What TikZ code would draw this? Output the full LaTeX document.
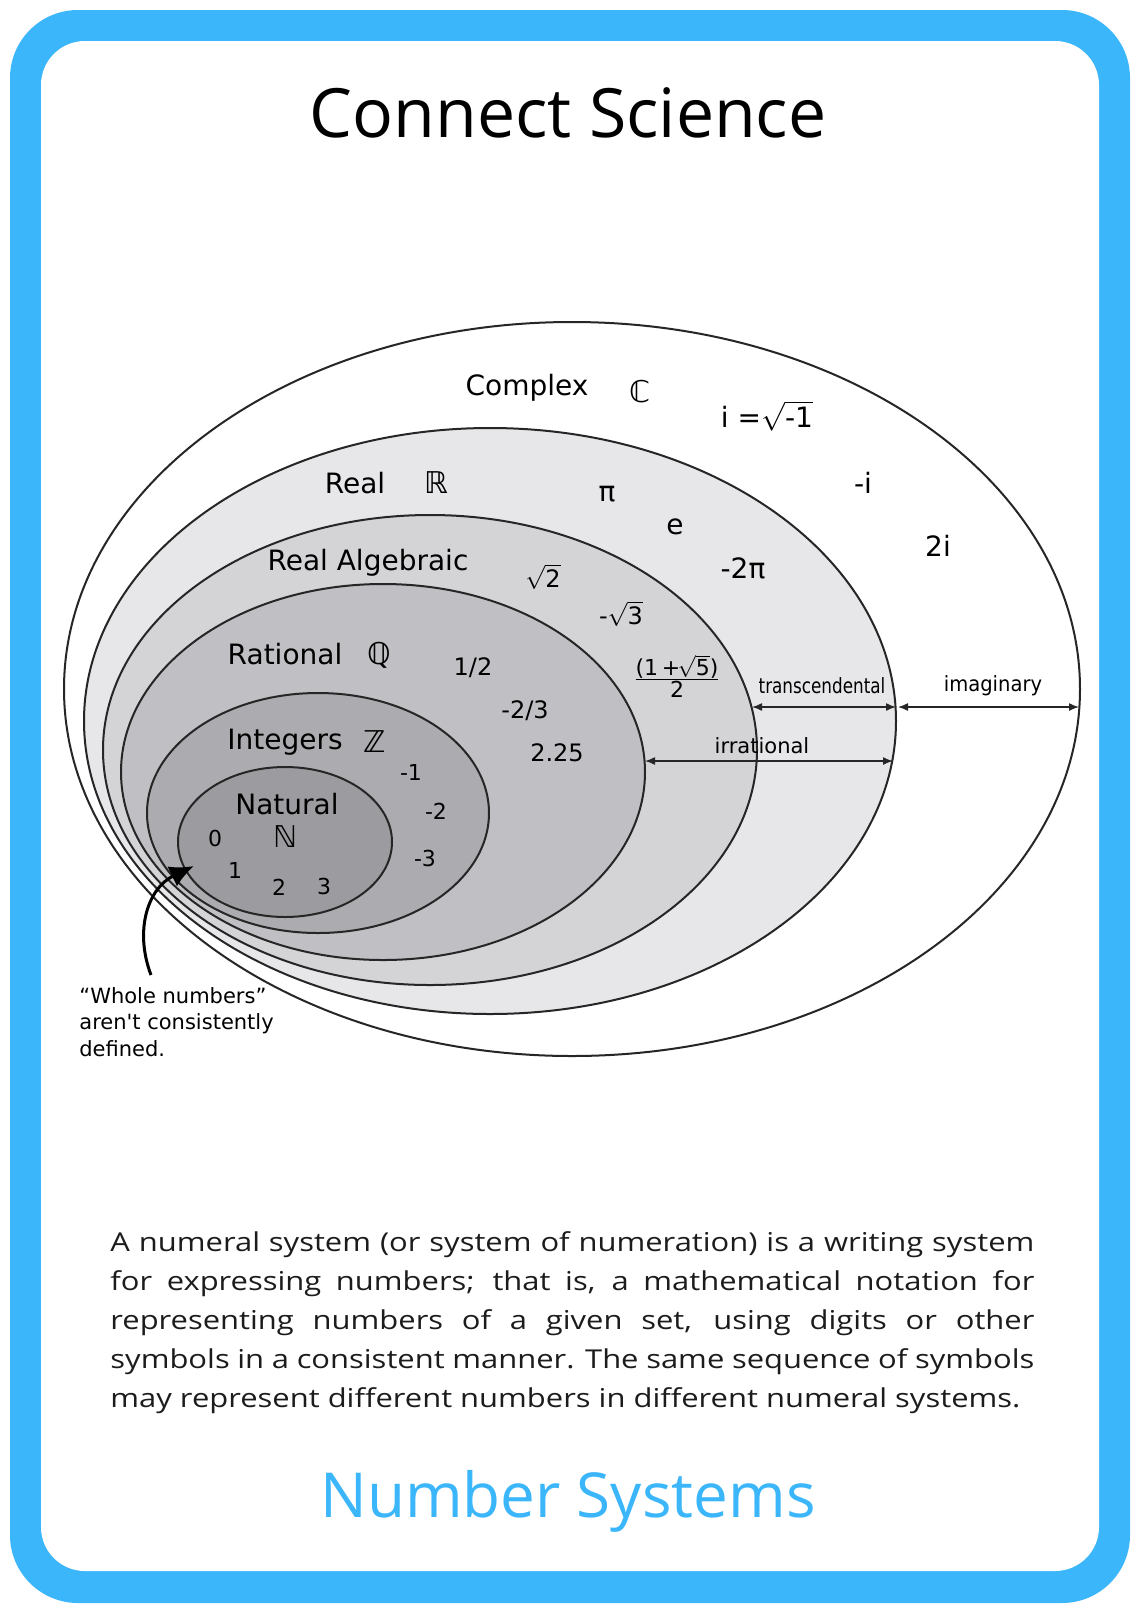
\documentclass[tikz,border=0pt]{standalone}
\usepackage{fontspec}
\setmainfont{Open Sans}
\newfontfamily\dfont{DejaVu Sans}
\newfontfamily\bodyfont[FakeStretch=1.19]{Open Sans}
\usetikzlibrary{arrows.meta}
\definecolor{frameblue}{RGB}{59,182,250}
\definecolor{creal}{RGB}{231,231,233}
\definecolor{calg}{RGB}{212,212,215}
\definecolor{crat}{RGB}{192,192,196}
\definecolor{cint}{RGB}{172,172,176}
\definecolor{cnat}{RGB}{156,156,160}
\definecolor{bodyink}{RGB}{28,28,28}
\tikzset{
  setline/.style={draw=black!85, line width=1pt},
  lab/.style={font=\dfont\fontsize{14pt}{16pt}\selectfont, inner sep=0pt},
  bblab/.style={font=\dfont\fontsize{15pt}{17pt}\selectfont, inner sep=0pt},
  num/.style={font=\dfont\fontsize{12pt}{14pt}\selectfont, inner sep=0pt},
  numsm/.style={font=\dfont\fontsize{11pt}{13pt}\selectfont, inner sep=0pt},
  note/.style={font=\dfont\fontsize{10.5pt}{13pt}\selectfont, inner sep=0pt, anchor=base west},
  dimlab/.style={font=\dfont\fontsize{10.5pt}{12pt}\selectfont, inner sep=0pt},
  dimarrow/.style={{Latex[length=5pt,width=4pt]}-{Latex[length=5pt,width=4pt]}, line width=0.7pt, black!85},
  bodyline/.style={font=\bodyfont\fontsize{13pt}{19.5pt}\selectfont, text=bodyink, inner sep=0pt, anchor=base west},
}
\begin{document}
\begin{tikzpicture}[x=0.5pt,y=-0.5pt]
\useasboundingbox (0,0) rectangle (1140,1613);
\fill[white] (0,0) rectangle (1140,1613);
\fill[frameblue, rounded corners=34pt] (10,10) rectangle (1130,1603);
\fill[white, rounded corners=22pt] (41,41) rectangle (1099,1571);

% title
\node[font=\fontsize{34pt}{39pt}\selectfont, anchor=base, inner sep=0pt] (title) at (568,137) {Connect Science};

% nested sets
\draw[setline, fill=white] (572,689) ellipse [x radius=254pt, y radius=183.5pt];
\draw[setline, fill=creal] (490,721) ellipse [x radius=203pt, y radius=146.5pt];
\draw[setline, fill=calg] (430,750) ellipse [x radius=163.5pt, y radius=117.5pt];
\draw[setline, fill=crat] (383,772) ellipse [x radius=131pt, y radius=94pt];
\draw[setline, fill=cint] (318,813) ellipse [x radius=85.5pt, y radius=60pt];
\draw[setline, fill=cnat] (285,842) ellipse [x radius=53.5pt, y radius=37.5pt];

% complex
\node[lab] (complex) at (527,388) {Complex};
\node[bblab] (bbC) at (640,392) {ℂ};
\node[lab] (iroot) at (767,416) {i =$\sqrt{\hbox{\dfont -1}}$};
\node[lab] (mi) at (863,483) {-i};
\node[lab] (twoi) at (938,546) {2i};
% real
\node[lab] (real) at (355,483) {Real};
\node[bblab] (bbR) at (436,483) {ℝ};
\node[lab] (pi) at (607,494) {π};
\node[lab] (e) at (675,527) {e};
\node[lab] (mtwopi) at (743,568) {-2π};
% algebraic
\node[lab] (alg) at (368,563) {Real Algebraic};
\node[num] (sq2) at (543,577) {$\sqrt{\hbox{\dfont 2}}$};
\node[num] (msq3) at (621,614) {-$\sqrt{\hbox{\dfont 3}}$};
\node[num, font=\dfont\fontsize{11pt}{13pt}\selectfont] (phi) at (677,676) {$\frac{\hbox{\dfont (1\,+}\!\sqrt{\hbox{\dfont 5}}\hbox{\dfont )}}{\hbox{\dfont 2}}$};
% rational
\node[lab] (rat) at (285,654) {Rational};
\node[bblab] (bbQ) at (379,655) {ℚ};
\node[num] (half) at (473,668) {1/2};
\node[num] (mtt) at (525,711) {-2/3};
\node[num] (dec) at (557,753) {2.25};
% integers
\node[lab] (int) at (285,742) {Integers};
\node[bblab] (bbZ) at (375,742) {ℤ};
\node[numsm] (m1) at (411,772) {-1};
\node[numsm] (m2) at (436,811) {-2};
\node[numsm] (m3) at (425,858) {-3};
% natural
\node[lab] (nat) at (287,804) {Natural};
\node[bblab] (bbN) at (286,837) {ℕ};
\node[numsm] (n0) at (215,838) {0};
\node[numsm] (n1) at (235,870) {1};
\node[numsm] (n2) at (279,887) {2};
\node[numsm] (n3) at (324,886) {3};

% dimension arrows
\coordinate (algR) at (752,707);
\coordinate (realR) at (896,707);
\coordinate (realRb) at (898,707);
\coordinate (cplxR) at (1079,707);
\coordinate (ratR) at (645,761);
\coordinate (realR2) at (893,761);
\draw[dimarrow] (algR) -- (realR);
\draw[dimarrow] (realRb) -- (cplxR);
\draw[dimarrow] (ratR) -- (realR2);
\node[dimlab] (trans) at (822,686) {\scalebox{0.8}[1]{transcendental}};
\node[dimlab] (imag) at (993,686) {\scalebox{0.93}[1]{imaginary}};
\node[dimlab] (irr) at (762,746) {irrational};

% whole numbers note
\node[note] (w1) at (79,1003) {“Whole numbers”};
\node[note] (w2) at (79,1029) {aren't consistently};
\node[note] (w3) at (79,1056) {defined.};
\coordinate (wtail) at (151,975);
\coordinate (wtip) at (194,866);
\draw[line width=1.5pt, -{Latex[length=12pt,width=11pt]}] (wtail) .. controls (134,930) and (148,888) .. (wtip);

% body text
\node[bodyline] (b1) at (110,1251) {\makebox[462pt][s]{A numeral system (or system of numeration) is a writing system}};
\node[bodyline] (b2) at (110,1290) {\makebox[462pt][s]{for expressing numbers; that is, a mathematical notation for}};
\node[bodyline] (b3) at (110,1329) {\makebox[462pt][s]{representing numbers of a given set, using digits or other}};
\node[bodyline] (b4) at (110,1368) {\makebox[462pt][s]{symbols in a consistent manner. The same sequence of symbols}};
\node[bodyline] (b5) at (110,1407) {may represent different numbers in different numeral systems.};

\node[font=\fontsize{31pt}{36pt}\selectfont, text=frameblue, anchor=base, inner sep=0pt] (footer) at (568,1517) {Number Systems};
\end{tikzpicture}
\end{document}
